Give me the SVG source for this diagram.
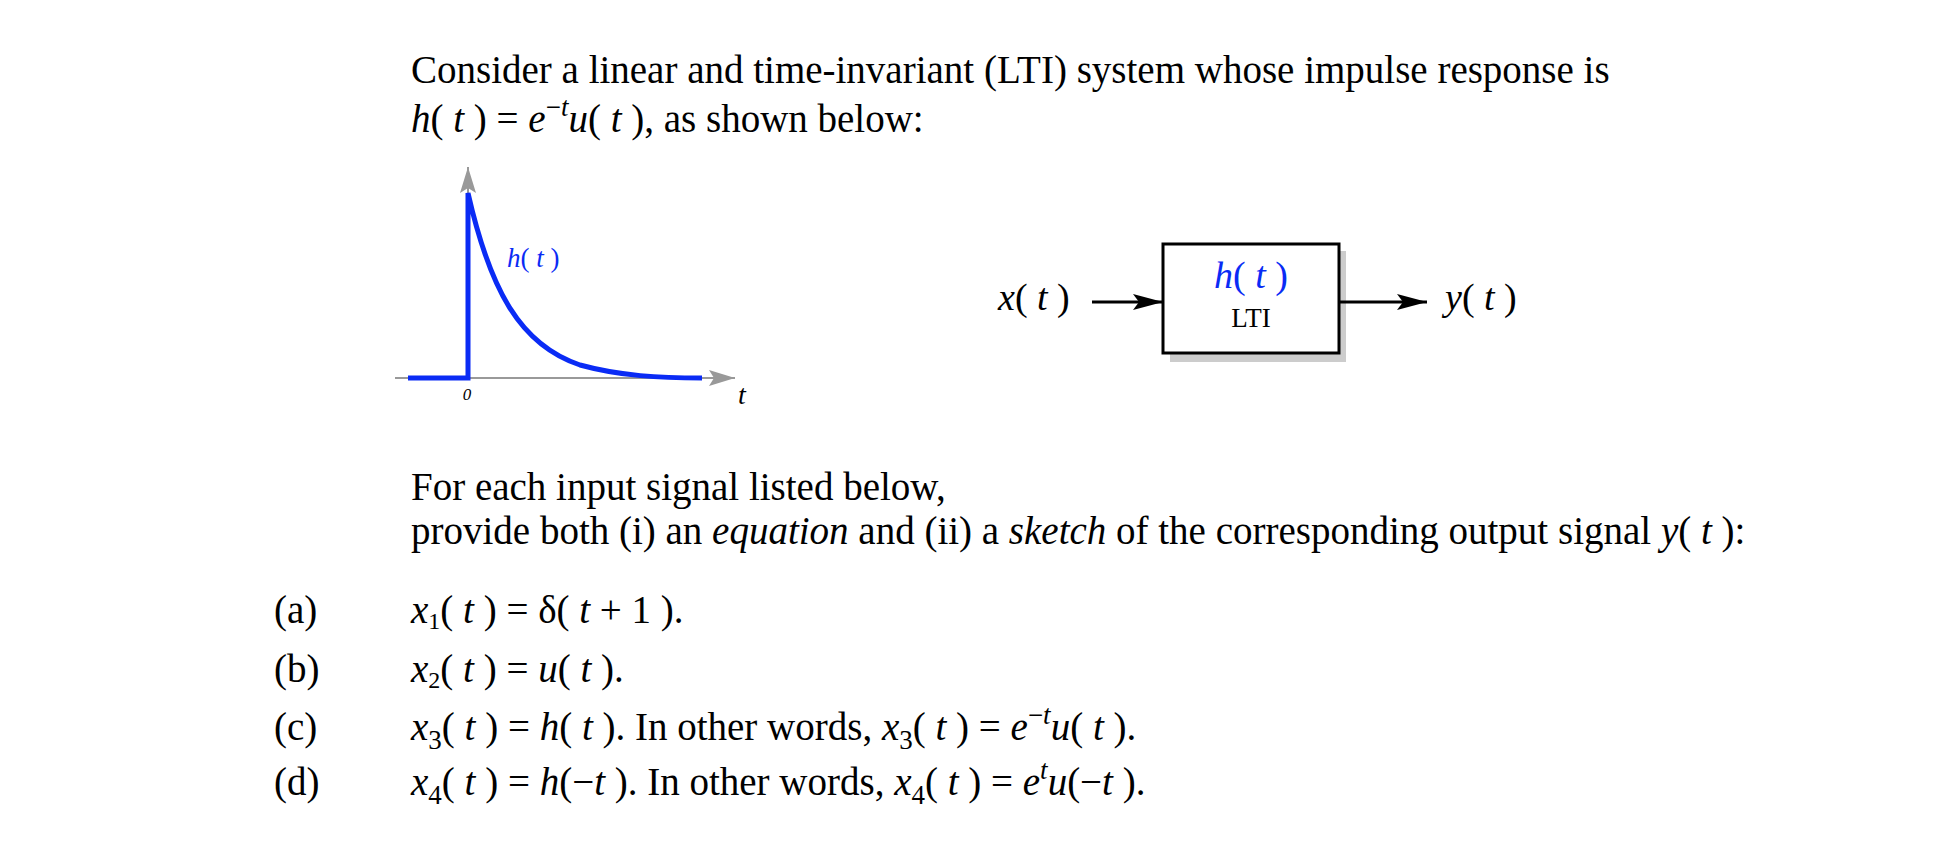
<svg xmlns="http://www.w3.org/2000/svg" width="1934" height="866" viewBox="0 0 1934 866">
<style>
text{font-family:"Liberation Serif","Times New Roman",serif;fill:#000}
.t{font-size:39px}
.i{font-style:italic}
.b{fill:#0a2bf5}
</style>
<defs>
<marker id="ba" markerWidth="30" markerHeight="16" refX="30" refY="8" orient="auto" markerUnits="userSpaceOnUse"><path d="M0,0 L30,8 L0,16 L6,8z" fill="#000"/></marker>
<marker id="gax" markerWidth="26" markerHeight="16" refX="26" refY="8" orient="auto" markerUnits="userSpaceOnUse"><path d="M0,0 L26,8 L0,16 L5,8z" fill="#999"/></marker>
</defs>
<text class="t" x="411" y="83">Consider a linear and time-invariant (LTI) system whose impulse response is</text>
<text class="t" x="411" y="132"><tspan class="i">h</tspan>( <tspan class="i">t</tspan> ) = <tspan class="i">e</tspan><tspan dy="-16" font-size="27">−<tspan class="i">t</tspan></tspan><tspan dy="16" class="i">u</tspan>( <tspan class="i">t</tspan> ), as shown below:</text>
<g id="plot">
<line x1="395" y1="378" x2="735" y2="378" stroke="#999" stroke-width="2" marker-end="url(#gax)"/>
<line x1="468" y1="378" x2="468" y2="167" stroke="#999" stroke-width="2" marker-end="url(#gax)"/>
<path d="M408,378 H468 V193 C490,290 520,345 580,365 C620,376 660,378 702,378" fill="none" stroke="#0a2bf5" stroke-width="5"/>
<text x="467" y="400" font-size="17" text-anchor="middle" class="i">0</text>
<text x="738" y="404" font-size="28" class="i">t</text>
<text x="507" y="267" font-size="27" class="b i">h<tspan font-style="normal">(</tspan> t<tspan font-style="normal"> )</tspan></text>
</g>
<g id="box">
<rect x="1170" y="251" width="176" height="111" fill="#ccc"/>
<rect x="1163" y="244" width="176" height="109" fill="#fff" stroke="#000" stroke-width="3"/>
<text x="1251" y="288" font-size="38" text-anchor="middle" class="b"><tspan class="i">h</tspan>( <tspan class="i">t</tspan> )</text>
<text x="1251" y="327" font-size="27" text-anchor="middle">LTI</text>
</g>
<g id="connectors">
<line x1="1092" y1="302" x2="1163" y2="302" stroke="#000" stroke-width="3" marker-end="url(#ba)"/>
<line x1="1339" y1="302" x2="1427" y2="302" stroke="#000" stroke-width="3" marker-end="url(#ba)"/>
</g>
<text x="998" y="310" font-size="38"><tspan class="i">x</tspan>( <tspan class="i">t</tspan> )</text>
<text x="1445" y="310" font-size="38"><tspan class="i">y</tspan>( <tspan class="i">t</tspan> )</text>
<text class="t" x="411" y="500">For each input signal listed below,</text>
<text class="t" x="411" y="544">provide both (i) an <tspan class="i">equation</tspan> and (ii) a <tspan class="i">sketch</tspan> of the corresponding output signal <tspan class="i">y</tspan>( <tspan class="i">t</tspan> ):</text>
<text class="t" x="274" y="623">(a)</text>
<text class="t" x="274" y="682">(b)</text>
<text class="t" x="274" y="740">(c)</text>
<text class="t" x="274" y="795">(d)</text>
<text class="t" x="411" y="623"><tspan class="i">x</tspan><tspan dy="6" font-size="24">1</tspan><tspan dy="-6">( <tspan class="i">t</tspan> ) = δ( <tspan class="i">t</tspan> + 1 ).</tspan></text>
<text class="t" x="411" y="682"><tspan class="i">x</tspan><tspan dy="6" font-size="24">2</tspan><tspan dy="-6">( <tspan class="i">t</tspan> ) = <tspan class="i">u</tspan>( <tspan class="i">t</tspan> ).</tspan></text>
<text class="t" x="411" y="740"><tspan class="i">x</tspan><tspan dy="9" font-size="27">3</tspan><tspan dy="-9">( <tspan class="i">t</tspan> ) = <tspan class="i">h</tspan>( <tspan class="i">t</tspan> ). In other words, <tspan class="i">x</tspan></tspan><tspan dy="9" font-size="27">3</tspan><tspan dy="-9">( <tspan class="i">t</tspan> ) = <tspan class="i">e</tspan></tspan><tspan dy="-16" font-size="27">−<tspan class="i">t</tspan></tspan><tspan dy="16" class="i">u</tspan>( <tspan class="i">t</tspan> ).</text>
<text class="t" x="411" y="795"><tspan class="i">x</tspan><tspan dy="9" font-size="27">4</tspan><tspan dy="-9">( <tspan class="i">t</tspan> ) = <tspan class="i">h</tspan>(−<tspan class="i">t</tspan> ). In other words, <tspan class="i">x</tspan></tspan><tspan dy="9" font-size="27">4</tspan><tspan dy="-9">( <tspan class="i">t</tspan> ) = <tspan class="i">e</tspan></tspan><tspan dy="-16" font-size="27" class="i">t</tspan><tspan dy="16" class="i">u</tspan>(−<tspan class="i">t</tspan> ).</text>
</svg>
